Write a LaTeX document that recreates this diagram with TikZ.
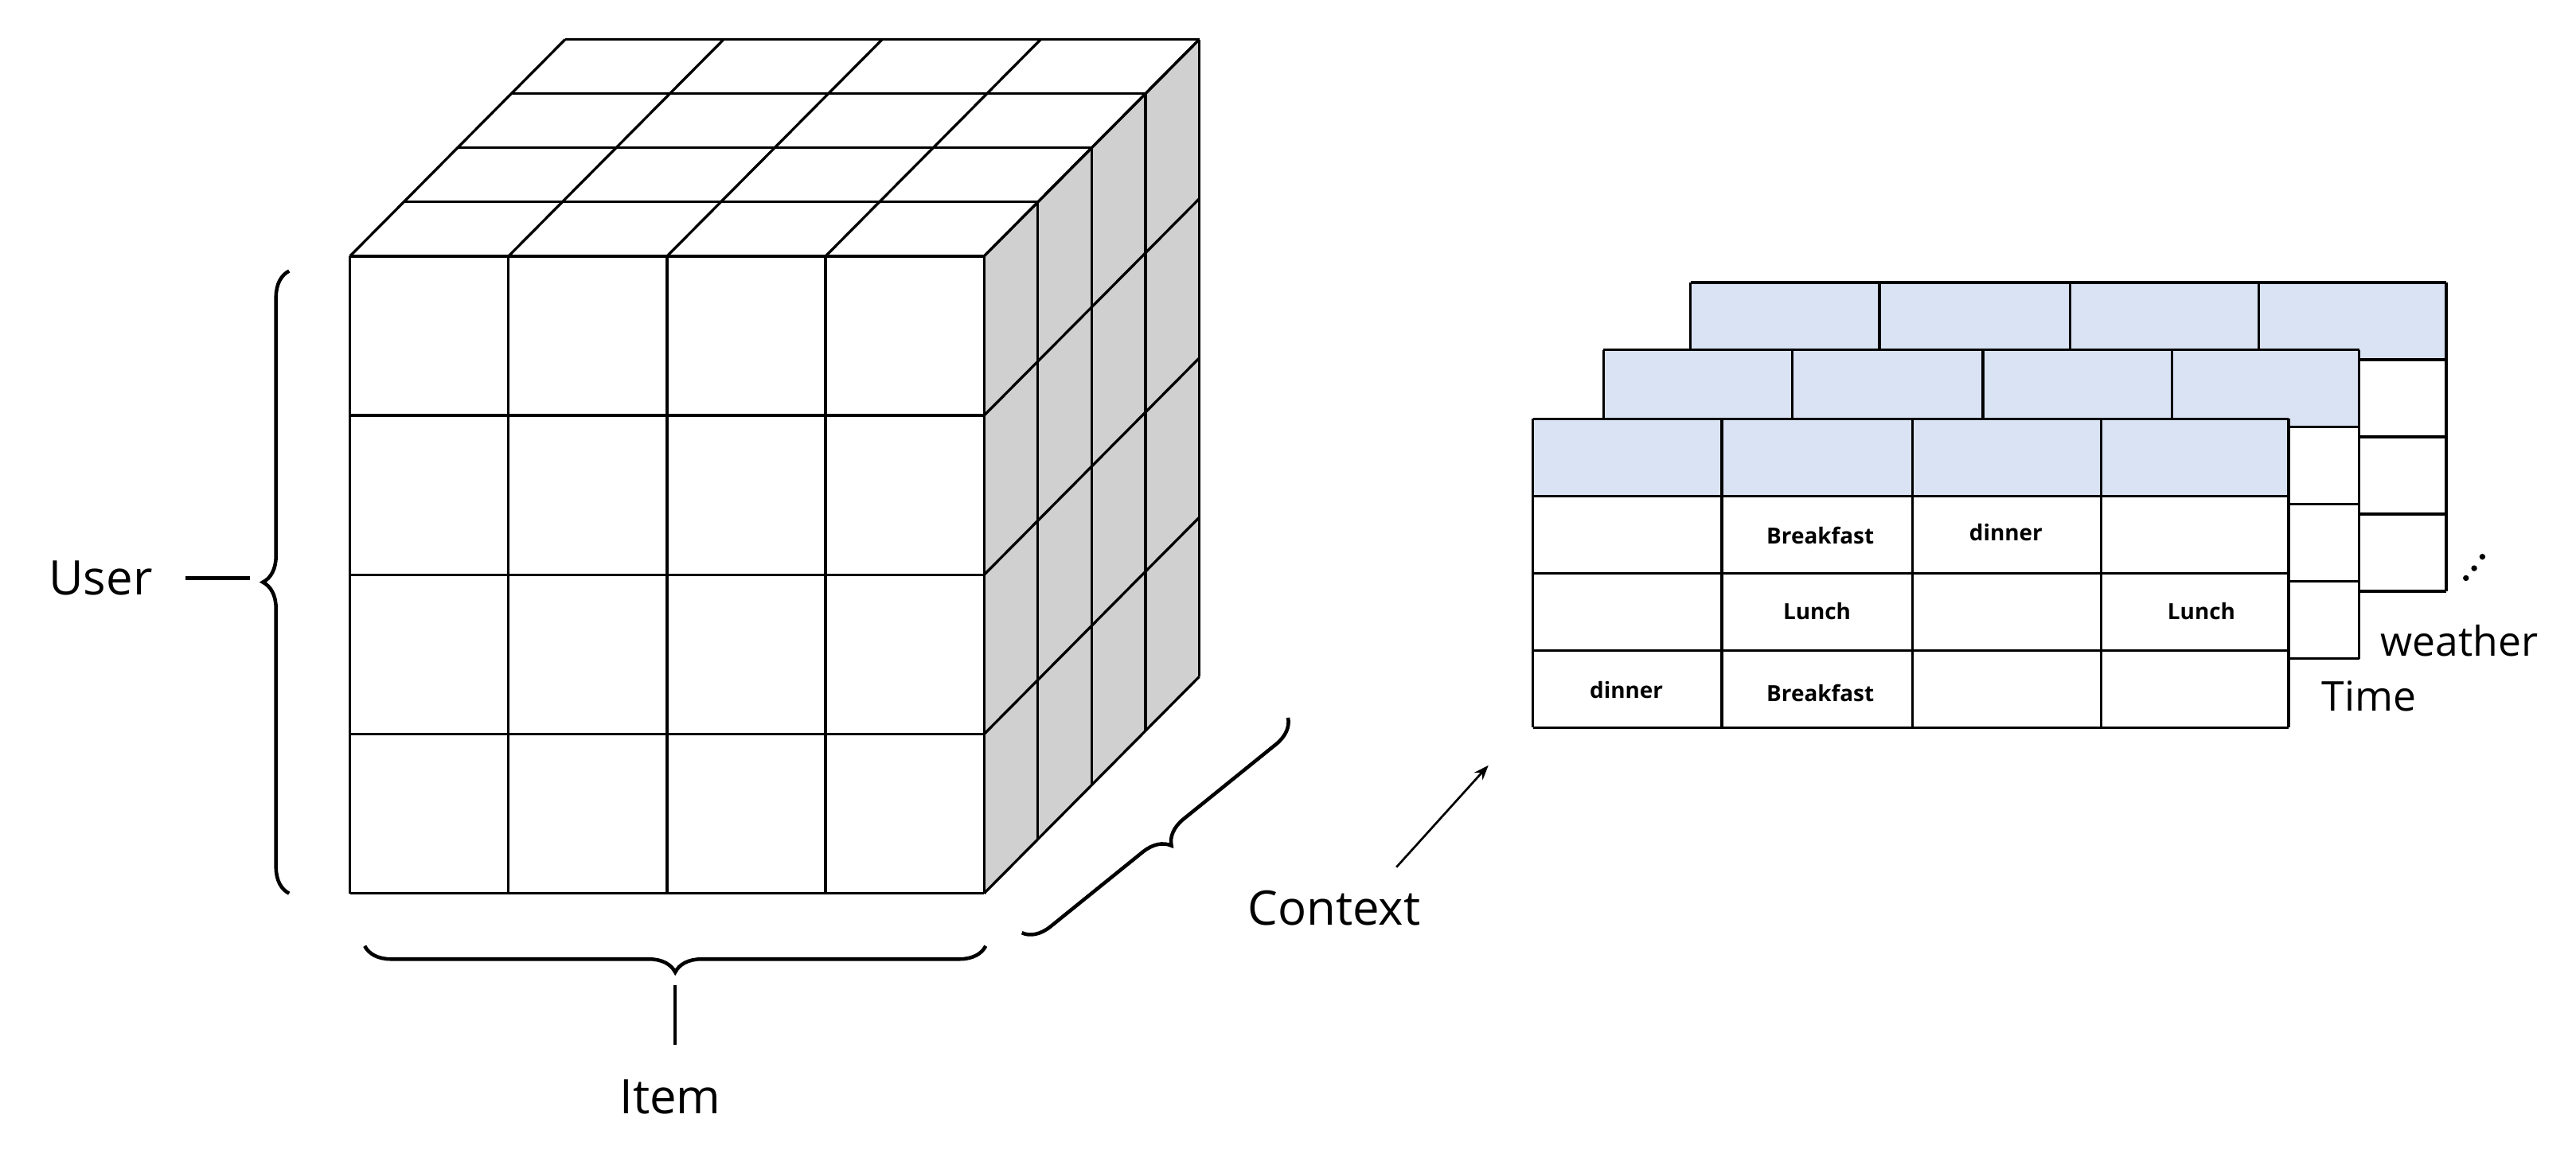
\documentclass[tikz,border=0pt]{standalone}
\usepackage{fontspec}
\setmainfont{Open Sans}
\usetikzlibrary{decorations.pathreplacing,arrows.meta}
\begin{document}
\begin{tikzpicture}[x=1pt,y=-1pt,
  cl/.style={line width=1.6pt,line join=round},
  br/.style={line width=2.2pt,decorate,decoration={brace,amplitude=16pt}},
  lab/.style={font=\fontsize{29}{32}\selectfont,inner sep=0pt},
  cell/.style={font=\bfseries\fontsize{13.5}{15}\selectfont,inner sep=0pt}]
\useasboundingbox (0,0) rectangle (1568,709);
\definecolor{hd}{HTML}{DAE3F3}
\definecolor{sd}{HTML}{D0D0D0}
% cube
\def\dx{32.75}\def\dy{33}
\fill[sd] (599,156) -- ++(4*\dx,-4*\dy) -- ++(0,388) -- (599,544) -- cycle;
\foreach \k in {1,...,4}{
  \draw[cl] (599+\k*\dx,156-\k*\dy) -- ++(0,388);}
\foreach \r in {0,...,4}{
  \draw[cl] (599,156+\r*97) -- ++(4*\dx,-4*\dy);}
\foreach \k in {0,...,4}{
  \draw[cl] (213+\k*\dx,156-\k*\dy) -- ++(386,0);}
\foreach \c in {0,...,4}{
  \draw[cl] (213+\c*96.5,156) -- ++(4*\dx,-4*\dy);}
\foreach \c in {0,...,4}{\draw[cl] (213+\c*96.5,156) -- ++(0,388);}
\foreach \r in {0,...,4}{\draw[cl] (213,156+\r*97) -- ++(386,0);}
% braces
\coordinate (u1) at (176,544); \coordinate (u2) at (176,165);
\draw[br] (u1) -- (u2);
\coordinate (ut) at (152,352);
\node[lab,anchor=east] (user) at (93,352) {User};
\coordinate (ue) at (113,352);
\draw[line width=2.2pt] (ue) -- (ut);
\coordinate (i1) at (222,576); \coordinate (i2) at (600,576);
\draw[br,decoration={mirror}] (i1) -- (i2);
\coordinate (it) at (411,600); \coordinate (ie) at (411,636);
\draw[line width=2.2pt] (it) -- (ie);
\node[lab] (item) at (408,668) {Item};
\coordinate (c1) at (784,437); \coordinate (c2) at (622,568);
\draw[br] (c1) -- (c2);
\node[lab] (ctx) at (812,553) {Context};
\coordinate (a1) at (850,528); \coordinate (a2) at (906,466);
\draw[line width=1.3pt,-{Stealth[length=9pt]}] (a1) -- (a2);
% tables
\newcommand{\tbl}[2]{%
  \begin{scope}[shift={(#1,#2)}]
  \fill[white] (0,0) rectangle (460,188);
  \fill[hd] (0,0) rectangle (460,47);
  \foreach \c in {0,115,231,346,460}{\draw[cl] (\c,0) -- (\c,188);}
  \foreach \r in {0,47,94,141,188}{\draw[cl] (0,\r) -- (460,\r);}
  \end{scope}}
\tbl{1029}{172}
\tbl{976}{213}
\tbl{933}{255}
\node[cell] (b1) at (1108,326) {Breakfast};
\node[cell] (d1) at (1221,324) {dinner};
\node[cell] (l1) at (1106,372) {Lunch};
\node[cell] (l2) at (1340,372) {Lunch};
\node[cell] (d2) at (990,420) {dinner};
\node[cell] (b2) at (1108,422) {Breakfast};
\node[lab,font=\fontsize{25}{28}\selectfont] (time) at (1442,424) {Time};
\node[lab,font=\fontsize{25}{28}\selectfont] (wea) at (1497,390) {weather};
\fill (1501,352) circle (1.8) (1506,346) circle (1.8) (1511,339) circle (1.8);
\end{tikzpicture}
\end{document}
